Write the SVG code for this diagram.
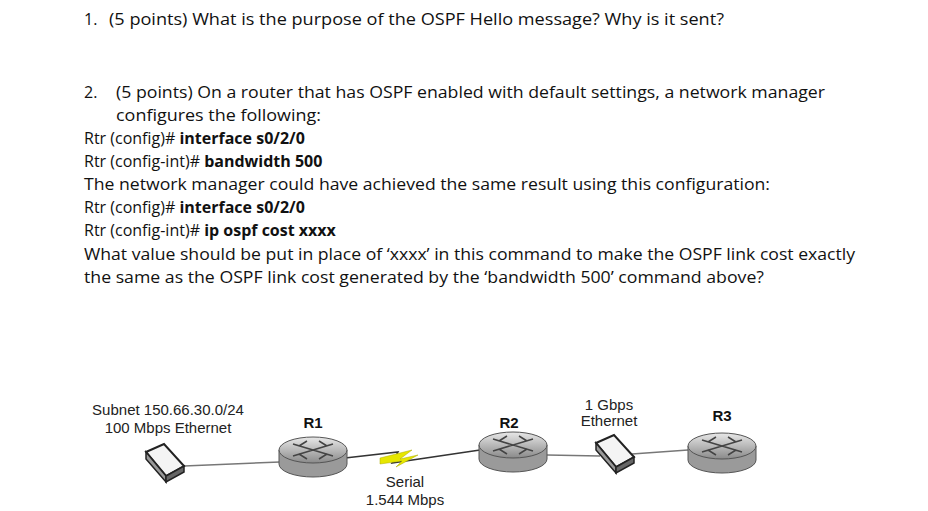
<svg xmlns="http://www.w3.org/2000/svg" width="928" height="511" viewBox="0 0 928 511">
<defs>
<style>
.t{font-family:"Open Sans","Liberation Sans",sans-serif;font-size:16px;fill:#111}
.b{font-weight:bold}
.d{font-family:"Liberation Sans",Arial,sans-serif;font-size:15px;fill:#222}
.lbl{font-family:"Liberation Sans",Arial,sans-serif;font-size:15px;font-weight:bold;fill:#111}
.ln{stroke:#777;stroke-width:1.5;fill:none}
</style>
<linearGradient id="rg" x1="0" y1="0" x2="0" y2="1"><stop offset="0" stop-color="#e8e8e8"/><stop offset="1" stop-color="#8a8a8a"/></linearGradient>
<g id="router">
<path d="M-34,0 L-34,14 A34,13 0 0 0 34,14 L34,0 Z" fill="#9a9a9a" stroke="#555"/>
<ellipse cx="0" cy="0" rx="34" ry="13" fill="url(#rg)" stroke="#555"/>
<g stroke="#444" stroke-width="1.5" fill="none"><path d="M-20,-6 L20,6 M-20,6 L20,-6 M-6,-9 L-14,-4 M6,9 L14,4 M6,-9 L14,-4 M-6,9 L-14,4"/></g>
</g>
<g id="switch">
<path d="M-18,-12 L0,-20 L20,2 L2,12 Z" fill="#f4f4f4" stroke="#222" stroke-width="2"/>
<path d="M-18,-12 L2,12 L2,18 L-18,-5 Z" fill="#999" stroke="#222" stroke-width="1.5"/>
<path d="M2,12 L20,2 L20,8 L2,18 Z" fill="#666" stroke="#222" stroke-width="1.5"/>
</g>
</defs>
<rect width="928" height="511" fill="#fff"/>
<g id="text">
<text class="t" x="84" y="25">1.</text><text class="t" x="109" y="25" textLength="615" lengthAdjust="spacingAndGlyphs">(5 points) What is the purpose of the OSPF Hello message? Why is it sent?</text>
<text class="t" x="84" y="98">2.</text><text class="t" x="116" y="98" textLength="709" lengthAdjust="spacingAndGlyphs">(5 points) On a router that has OSPF enabled with default settings, a network manager</text>
<text class="t" x="116" y="121" textLength="205" lengthAdjust="spacingAndGlyphs">configures the following:</text>
<text class="t" x="84" y="144">Rtr (config)# <tspan class="b">interface s0/2/0</tspan></text>
<text class="t" x="84" y="167">Rtr (config-int)# <tspan class="b">bandwidth 500</tspan></text>
<text class="t" x="84" y="190" textLength="686" lengthAdjust="spacingAndGlyphs">The network manager could have achieved the same result using this configuration:</text>
<text class="t" x="84" y="213">Rtr (config)# <tspan class="b">interface s0/2/0</tspan></text>
<text class="t" x="84" y="236">Rtr (config-int)# <tspan class="b">ip ospf cost xxxx</tspan></text>
<text class="t" x="84" y="260" textLength="771" lengthAdjust="spacingAndGlyphs">What value should be put in place of ‘xxxx’ in this command to make the OSPF link cost exactly</text>
<text class="t" x="84" y="283" textLength="680" lengthAdjust="spacingAndGlyphs">the same as the OSPF link cost generated by the ‘bandwidth 500’ command above?</text>
</g>
<g id="connectors">
<line class="ln" x1="184" y1="466" x2="280" y2="462"/>
<path d="M345,458 L398,452 L392,463 L480,450" stroke="#333" stroke-width="1.5" fill="none"/>
<path d="M380,458 L412,450 L400,459 L418,455 L396,467 L402,461 L380,464 Z" fill="#e6e600" stroke="#aa0" stroke-width="0.5"/>
<line class="ln" x1="547" y1="455" x2="600" y2="456"/>
<line class="ln" x1="632" y1="454" x2="688" y2="450"/>
</g>
<g id="sw1"><use href="#switch" transform="translate(164,464)"/></g>
<g id="r1"><use href="#router" transform="translate(313,450)"/><text class="lbl" x="313" y="428" text-anchor="middle">R1</text></g>
<g id="r2"><use href="#router" transform="translate(513,445)"/><text class="lbl" x="509" y="428" text-anchor="middle">R2</text></g>
<g id="sw2"><use href="#switch" transform="translate(614,455)"/></g>
<g id="r3"><use href="#router" transform="translate(722,446)"/><text class="lbl" x="722" y="421" text-anchor="middle">R3</text></g>
<g id="labels">
<text class="d" x="168" y="415" text-anchor="middle">Subnet 150.66.30.0/24</text>
<text class="d" x="168" y="433" text-anchor="middle">100 Mbps Ethernet</text>
<text class="d" x="609" y="410" text-anchor="middle">1 Gbps</text>
<text class="d" x="609" y="426" text-anchor="middle">Ethernet</text>
<text class="d" x="405" y="487" text-anchor="middle">Serial</text>
<text class="d" x="405" y="505" text-anchor="middle">1.544 Mbps</text>
</g>
</svg>
